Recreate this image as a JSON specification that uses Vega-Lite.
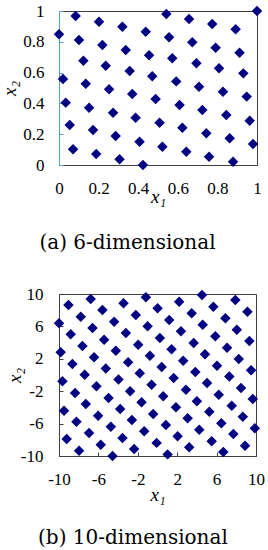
{
  "$schema": "https://vega.github.io/schema/vega-lite/v6.json",
  "padding": {"left": 0, "top": 1, "right": 5, "bottom": 0},
  "background": "white",
  "spacing": 30,
  "align": "none",
  "datasets": {
    "six": [
      {"x": 1, "y": 1}, {"x": 0.542, "y": 0.98}, {"x": 0.084, "y": 0.968}, {"x": 0.657, "y": 0.948},
      {"x": 0.202, "y": 0.93}, {"x": 0.774, "y": 0.916}, {"x": 0.32, "y": 0.898}, {"x": 0.892, "y": 0.881},
      {"x": 0.438, "y": 0.866}, {"x": 0, "y": 0.849}, {"x": 0.556, "y": 0.829}, {"x": 0.101, "y": 0.812},
      {"x": 0.673, "y": 0.797}, {"x": 0.219, "y": 0.779}, {"x": 0.791, "y": 0.762}, {"x": 0.337, "y": 0.747},
      {"x": 0.912, "y": 0.729}, {"x": 0.455, "y": 0.712}, {"x": 0.572, "y": 0.693}, {"x": 0.123, "y": 0.677},
      {"x": 0.694, "y": 0.66}, {"x": 0.236, "y": 0.645}, {"x": 0.808, "y": 0.628}, {"x": 0.357, "y": 0.61},
      {"x": 0.931, "y": 0.595}, {"x": 0.471, "y": 0.576}, {"x": 0.02, "y": 0.558}, {"x": 0.592, "y": 0.543},
      {"x": 0.135, "y": 0.528}, {"x": 0.707, "y": 0.508}, {"x": 0.253, "y": 0.492}, {"x": 0.828, "y": 0.476},
      {"x": 0.37, "y": 0.461}, {"x": 0.948, "y": 0.444}, {"x": 0.488, "y": 0.429}, {"x": 0.034, "y": 0.405},
      {"x": 0.609, "y": 0.39}, {"x": 0.152, "y": 0.372}, {"x": 0.724, "y": 0.357}, {"x": 0.273, "y": 0.34},
      {"x": 0.845, "y": 0.325}, {"x": 0.387, "y": 0.307}, {"x": 0.963, "y": 0.288}, {"x": 0.508, "y": 0.275},
      {"x": 0.054, "y": 0.26}, {"x": 0.623, "y": 0.242}, {"x": 0.172, "y": 0.227}, {"x": 0.744, "y": 0.206},
      {"x": 0.286, "y": 0.188}, {"x": 0.862, "y": 0.173}, {"x": 0.407, "y": 0.151}, {"x": 0.98, "y": 0.136},
      {"x": 0.522, "y": 0.119}, {"x": 0.071, "y": 0.102}, {"x": 0.643, "y": 0.086}, {"x": 0.188, "y": 0.071},
      {"x": 0.758, "y": 0.054}, {"x": 0.306, "y": 0.037}, {"x": 0.879, "y": 0.021}, {"x": 0.424, "y": 0}
    ],
    "ten": [
      {"x": 4.52, "y": 9.88}, {"x": -1.18, "y": 9.6}, {"x": -6.78, "y": 9.38}, {"x": 7.9, "y": 9.26},
      {"x": 2.2, "y": 9.05}, {"x": -3.45, "y": 8.85}, {"x": -9.04, "y": 8.64}, {"x": 5.67, "y": 8.43},
      {"x": 0.01, "y": 8.23}, {"x": -5.59, "y": 8.02}, {"x": 9.13, "y": 7.81}, {"x": 3.47, "y": 7.62},
      {"x": -2.2, "y": 7.41}, {"x": -7.79, "y": 7.2}, {"x": 6.89, "y": 7.0}, {"x": 1.19, "y": 6.79},
      {"x": -4.4, "y": 6.58}, {"x": -10, "y": 6.4}, {"x": 4.59, "y": 6.21}, {"x": -1.0, "y": 6.01},
      {"x": -6.6, "y": 5.8}, {"x": 8.05, "y": 5.59}, {"x": 2.38, "y": 5.4}, {"x": -3.21, "y": 5.19},
      {"x": -8.81, "y": 5.02}, {"x": 5.87, "y": 4.78}, {"x": 0.24, "y": 4.57}, {"x": -5.42, "y": 4.36},
      {"x": 9.33, "y": 4.2}, {"x": 3.67, "y": 3.95}, {"x": -1.96, "y": 3.74}, {"x": -7.62, "y": 3.58},
      {"x": 7.06, "y": 3.37}, {"x": 1.43, "y": 3.17}, {"x": -4.23, "y": 3.0}, {"x": -9.83, "y": 2.8},
      {"x": 4.82, "y": 2.56}, {"x": -0.77, "y": 2.38}, {"x": -6.44, "y": 2.18}, {"x": 8.25, "y": 1.98},
      {"x": 2.61, "y": 1.77}, {"x": -2.98, "y": 1.57}, {"x": -8.64, "y": 1.36}, {"x": 6.04, "y": 1.15},
      {"x": 0.42, "y": 0.99}, {"x": -5.25, "y": 0.8}, {"x": 9.5, "y": 0.6}, {"x": 3.84, "y": 0.37},
      {"x": -1.8, "y": 0.21}, {"x": -7.39, "y": 0.02}, {"x": 7.29, "y": -0.18}, {"x": 1.64, "y": -0.36},
      {"x": -3.96, "y": -0.55}, {"x": -9.65, "y": -0.78}, {"x": 5.03, "y": -0.99}, {"x": -0.6, "y": -1.2},
      {"x": -6.2, "y": -1.4}, {"x": 8.48, "y": -1.6}, {"x": 2.89, "y": -1.81}, {"x": -2.78, "y": -2.0},
      {"x": -8.37, "y": -2.22}, {"x": 6.22, "y": -2.43}, {"x": 0.58, "y": -2.63}, {"x": -4.97, "y": -2.84},
      {"x": 9.67, "y": -2.96}, {"x": 4.0, "y": -3.25}, {"x": -1.62, "y": -3.37}, {"x": -7.28, "y": -3.58},
      {"x": 7.54, "y": -3.79}, {"x": 1.87, "y": -3.99}, {"x": -3.79, "y": -4.2}, {"x": -9.49, "y": -4.41},
      {"x": 5.26, "y": -4.53}, {"x": -0.44, "y": -4.81}, {"x": -6.03, "y": -5.02}, {"x": 8.66, "y": -5.15},
      {"x": 3.06, "y": -5.35}, {"x": -2.6, "y": -5.56}, {"x": -8.23, "y": -5.77}, {"x": 6.48, "y": -5.96},
      {"x": 0.85, "y": -6.17}, {"x": -4.74, "y": -6.38}, {"x": 9.88, "y": -6.58}, {"x": 4.24, "y": -6.75},
      {"x": -1.35, "y": -6.95}, {"x": -6.95, "y": -7.16}, {"x": 7.7, "y": -7.28}, {"x": 2.04, "y": -7.57},
      {"x": -3.55, "y": -7.78}, {"x": -9.22, "y": -7.9}, {"x": 5.5, "y": -8.18}, {"x": -0.09, "y": -8.38},
      {"x": -5.76, "y": -8.6}, {"x": 8.89, "y": -8.73}, {"x": 3.22, "y": -8.93}, {"x": -2.37, "y": -9.14},
      {"x": -7.96, "y": -9.35}, {"x": 6.68, "y": -9.51}, {"x": 1.03, "y": -9.8}, {"x": -4.57, "y": -10}
    ]
  },
  "config": {
    "view": {"stroke": "#404040", "strokeWidth": 1},
    "axis": {
      "grid": false,
      "labelFont": "Liberation Serif",
      "labelFontSize": 17,
      "labelColor": "black",
      "labelFlush": false,
      "labelOverlap": false,
      "titleFont": "Liberation Serif",
      "titleFontSize": 19,
      "titleFontStyle": "italic",
      "titleFontWeight": "normal",
      "titleColor": "black",
      "domainColor": "#404040",
      "tickColor": "#404040"
    },
    "title": {"font": "DejaVu Serif", "fontSize": 20, "fontWeight": "normal", "color": "black"}
  },
  "vconcat": [
    {
      "width": 198,
      "height": 154,
      "data": {"name": "six"},
      "title": {"text": "(a) 6-dimensional", "orient": "bottom", "anchor": "middle", "frame": "bounds", "dx": -4, "offset": 27},
      "mark": {"type": "point", "shape": "diamond", "filled": true, "size": 110, "color": "#000080", "opacity": 1, "clip": false},
      "encoding": {
        "x": {
          "field": "x", "type": "quantitative",
          "scale": {"domain": [0, 1], "nice": false, "zero": false},
          "axis": {"title": "x₁", "values": [0, 0.2, 0.4, 0.6, 0.8, 1], "format": "~g", "ticks": false, "labelPadding": 15, "titlePadding": -9}
        },
        "y": {
          "field": "y", "type": "quantitative",
          "scale": {"domain": [0, 1], "nice": false, "zero": false},
          "axis": {"title": "x₂", "values": [0, 0.2, 0.4, 0.6, 0.8, 1], "format": "~g", "tickSize": -4, "tickColor": "#5b9bd5", "domainColor": "#5b9bd5", "labelPadding": 19, "titlePadding": 3}
        }
      }
    },
    {
      "width": 197,
      "height": 162,
      "data": {"name": "ten"},
      "title": {"text": "(b) 10-dimensional", "orient": "bottom", "anchor": "middle", "frame": "bounds", "dx": -2, "offset": 24},
      "mark": {"type": "point", "shape": "diamond", "filled": true, "size": 110, "color": "#000080", "opacity": 1, "clip": false},
      "encoding": {
        "x": {
          "field": "x", "type": "quantitative",
          "scale": {"domain": [-10, 10], "nice": false, "zero": false},
          "axis": {"title": "x₁", "values": [-10, -6, -2, 2, 6, 10], "labelExpr": "'' + datum.value", "tickSize": -4, "labelPadding": 19, "titlePadding": -2}
        },
        "y": {
          "field": "y", "type": "quantitative",
          "scale": {"domain": [-10, 10], "nice": false, "zero": false},
          "axis": {"title": "x₂", "values": [-10, -6, -2, 2, 6, 10], "labelExpr": "'' + datum.value", "tickSize": -4, "labelPadding": 20, "titlePadding": -4}
        }
      }
    }
  ]
}
